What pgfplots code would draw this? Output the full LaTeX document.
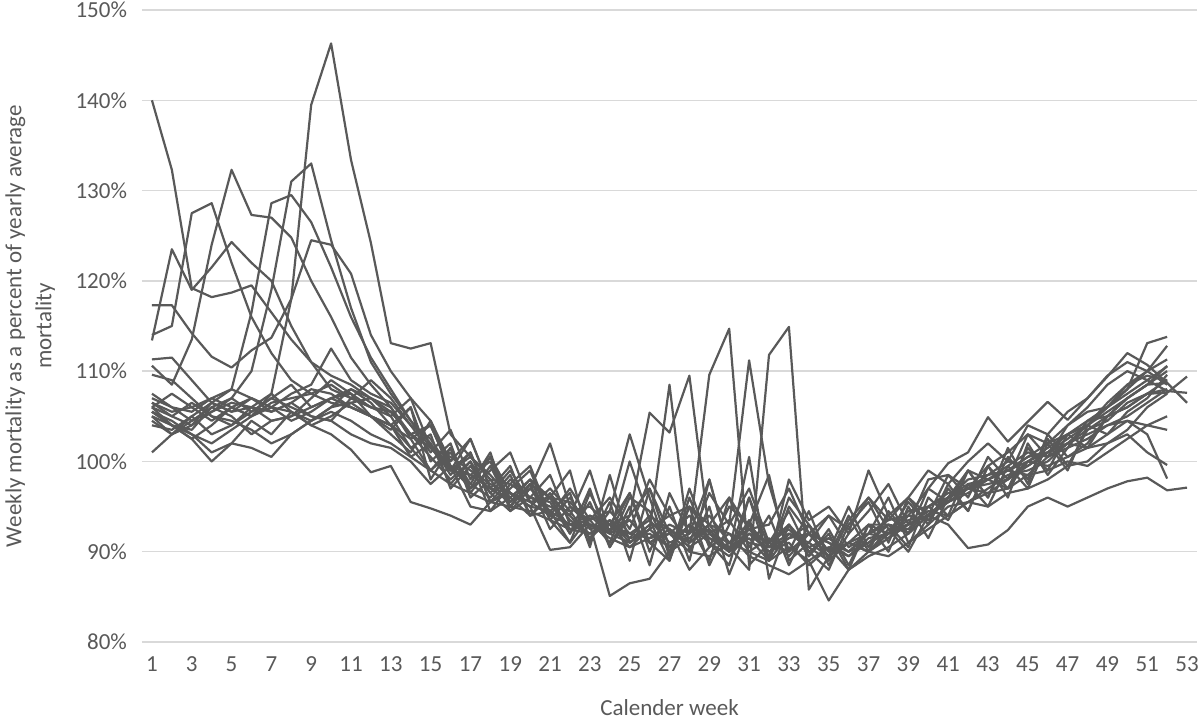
\documentclass[border=0pt]{standalone}
\usepackage{pgfplots}
\pgfplotsset{compat=1.18}
\usepackage{fontspec}
\setmainfont{Carlito}
\definecolor{ln}{HTML}{595959}
\definecolor{gr}{HTML}{D9D9D9}
\definecolor{tx}{HTML}{595959}
\begin{document}
\begin{tikzpicture}
\path[use as bounding box] (-71pt,-40pt) rectangle (529pt,321pt);
\begin{axis}[
  scale only axis, width=527.5pt, height=316pt,
  xmin=0.5, xmax=53.5, ymin=80, ymax=150,
  xtick={1,3,...,53},
  ytick={80,90,...,150},
  yticklabels={80\%,90\%,100\%,110\%,120\%,130\%,140\%,150\%},
  /pgf/number format/assume math mode=true,
  ymajorgrids, grid style={gr, line width=0.75pt},
  axis line style={draw=none},
  tick style={draw=none},
  tick label style={font=\fontsize{11.5}{13}\selectfont, text=tx},
  xticklabel style={yshift=-4pt},
  yticklabel style={xshift=-4pt},
  label style={font=\fontsize{11.5}{15}\selectfont, text=tx},
  xlabel={Calender week},
  xlabel style={at={(axis description cs:0.5,-0.1044)}, anchor=center},
  ylabel={Weekly mortality as a percent of yearly average\\mortality},
  ylabel style={align=center, at={(axis description cs:-0.106,0.5)}, anchor=center},
  no markers,
  every axis plot post/.append style={draw=ln, solid, line width=1.1pt, line join=round},
  clip=false,
]
% S1
\addplot table[x expr=\coordindex+1, y index=0, header=false, row sep=\\]{140\\132.3\\119.2\\118.2\\118.7\\119.5\\116.5\\113.5\\111\\109.5\\108.5\\107\\105.5\\103\\101.5\\99.5\\98.5\\97\\96.5\\95\\94.5\\93\\94\\92\\93.5\\91\\92.5\\91\\93\\90\\91.5\\89\\92\\90.5\\89\\91\\90\\92.5\\93\\94.5\\94\\95.5\\95\\96.5\\97\\98\\99.5\\100\\102\\103.5\\106\\107.5\\};
% S2
\addplot table[x expr=\coordindex+1, y index=0, header=false, row sep=\\]{105.5\\104\\102.5\\104\\106\\105\\107.5\\118\\139.5\\146.3\\133.4\\124.2\\113.1\\112.5\\113.1\\103\\100.5\\98\\97.5\\96\\95\\94.5\\91.5\\93.5\\91\\92.5\\90.5\\93\\91\\89.5\\92\\90\\91\\88.5\\90.5\\89.5\\91.5\\92\\93.5\\94\\96\\97\\98.5\\99\\100.5\\101\\102.5\\104\\106\\108\\110\\111.3\\};
% S3
\addplot table[x expr=\coordindex+1, y index=0, header=false, row sep=\\]{106.5\\105\\104\\105.5\\107\\110\\119\\131\\133\\124.5\\117\\111\\107.5\\104.5\\101.5\\100.5\\99\\97.5\\96.5\\95.5\\96\\94\\99\\92\\96.5\\91\\89\\95\\92\\90\\96\\90.5\\93\\89.5\\92\\88\\93\\93\\90.5\\96\\94\\99\\96\\100.5\\98\\102.5\\99.5\\103.5\\105\\107\\108.5\\110.6\\};
% S4
\addplot table[x expr=\coordindex+1, y index=0, header=false, row sep=\\]{105\\103\\104\\106.5\\108\\116.5\\128.6\\129.5\\126.5\\121.5\\116\\111.5\\108\\104.5\\102\\98.5\\101\\95.5\\97\\99\\93.5\\96\\92.5\\93\\91.5\\94\\92.5\\90.5\\92\\93.5\\90\\91.5\\89.5\\92\\91\\90\\92\\93\\92.5\\95\\96.5\\97\\98\\99.5\\101\\100.5\\102\\104\\106.5\\108.5\\109.5\\109\\};
% S5
\addplot table[x expr=\coordindex+1, y index=0, header=false, row sep=\\]{110.6\\108.5\\113.5\\124\\132.3\\127.3\\127\\124.8\\120\\116\\111.5\\108.5\\106\\103\\104\\99\\98.5\\100\\95\\97.5\\96\\92\\95.5\\90.5\\94\\97\\90.5\\93\\89\\96\\90.5\\94\\88.5\\93\\90\\95\\90.5\\94\\92\\97\\95.5\\99\\96\\101.5\\97.5\\103\\100.5\\102\\105\\106\\107.5\\108\\};
% S6
\addplot table[x expr=\coordindex+1, y index=0, header=false, row sep=\\]{114\\115\\127.5\\128.6\\122\\116\\112\\109\\107.5\\106.5\\106\\105\\104\\106\\98\\101.5\\96.5\\99.5\\95\\97.5\\96\\92.5\\92\\93\\90.5\\92.5\\94\\91\\92.5\\90\\92\\91\\93\\90.5\\91.5\\90\\91\\93\\92\\94\\95.5\\97\\96.5\\98\\100\\101\\102\\101.5\\103\\105.5\\107\\109.6\\};
% S7
\addplot table[x expr=\coordindex+1, y index=0, header=false, row sep=\\]{113.4\\123.5\\119\\121.5\\124.3\\122\\120\\115\\111\\108\\107\\106\\105.5\\103\\104\\99.5\\97.5\\101\\94.5\\96\\98.5\\93\\93.5\\94.5\\92\\91.5\\93\\92\\94\\91\\92.5\\90\\91.5\\93\\90\\91\\92\\91.5\\94\\93.5\\96\\97.5\\98\\99\\100.5\\102\\103\\104.5\\106\\108.5\\110\\112.8\\};
% S8
\addplot table[x expr=\coordindex+1, y index=0, header=false, row sep=\\]{117.3\\117.3\\114.2\\111.6\\110.4\\112.3\\113.7\\118\\124.5\\124\\120.8\\114\\110\\107\\104.5\\100\\102.5\\97\\99.5\\94\\96\\95.5\\93\\92.5\\93.5\\91\\92\\94\\91.5\\90\\92.5\\91\\90\\92\\89.5\\91\\93\\92\\94.5\\95\\96\\98\\98.5\\100\\99.5\\101\\103\\104\\105.5\\107\\108.5\\110\\};
% S9
\addplot table[x expr=\coordindex+1, y index=0, header=false, row sep=\\]{111.3\\111.5\\109\\106.5\\105.5\\106\\107.5\\105.5\\104.5\\106\\108\\107\\105\\101.5\\103\\97\\99.5\\96.5\\99\\95.5\\94\\97\\93.5\\91\\96\\94.5\\90\\95\\88.5\\93\\97\\91\\94.5\\90\\88\\93\\95.5\\91\\96\\93\\97.5\\94.5\\99.5\\96\\102\\98.5\\101.5\\104.5\\105\\106\\107.5\\109\\};
% S10
\addplot table[x expr=\coordindex+1, y index=0, header=false, row sep=\\]{109.6\\109\\107\\105\\104.5\\103.5\\102\\103\\104.5\\106\\106.5\\105\\103.5\\106\\100\\102\\96\\98\\95\\97.5\\92.5\\95\\93\\85.1\\86.5\\87\\90\\91.5\\93\\92\\91\\90.5\\92\\91\\89.5\\91\\90\\91.5\\93\\94\\95.5\\96.5\\98\\99\\98.5\\100.5\\101.5\\102.5\\104\\105\\106.5\\108\\};
% S11
\addplot table[x expr=\coordindex+1, y index=0, header=false, row sep=\\]{101\\103\\105\\106.5\\105.5\\107\\106\\105.5\\104\\105\\106.5\\107\\106\\102.5\\104\\99\\101\\95.5\\98\\96\\95.5\\92\\97\\90.5\\95\\88.5\\96.5\\92\\98\\90\\93.5\\89\\95\\92\\89.5\\94\\90\\94.5\\92\\95\\93.5\\97.5\\95\\99.5\\97\\102\\99\\104\\103\\104.5\\104\\103.5\\};
% S12
\addplot table[x expr=\coordindex+1, y index=0, header=false, row sep=\\]{105.5\\104.5\\103\\102\\103.5\\105\\106\\107.5\\108.5\\112.5\\109\\107.5\\106.5\\104\\101\\103.5\\98\\100.5\\96.5\\95\\97\\94.5\\95\\93\\92\\93.5\\91\\92\\109.6\\114.7\\88.5\\91\\92.5\\90\\91.5\\90\\92\\93.5\\96\\94\\98.5\\96\\100.5\\98\\103\\100.5\\104\\105.5\\106\\107.5\\109\\110.5\\};
% S13
\addplot table[x expr=\coordindex+1, y index=0, header=false, row sep=\\]{106\\105\\106.5\\105\\104\\106\\105.5\\106.5\\108\\107.5\\106\\105\\104\\100.5\\102\\97.5\\100\\94.5\\97.5\\99.5\\94\\93\\92\\93.5\\91.5\\92\\90.5\\93\\91.5\\90.5\\88\\111.8\\114.9\\85.8\\89.5\\91\\90\\92\\93\\94\\95.5\\97\\98\\99\\100\\101.5\\103\\104\\106\\108\\113.1\\113.8\\};
% S14
\addplot table[x expr=\coordindex+1, y index=0, header=false, row sep=\\]{104.5\\103\\104.5\\106\\107\\105.5\\107\\108.5\\106\\107\\107.5\\106\\105\\107\\101.5\\99\\102.5\\97\\95.5\\98\\96\\99\\91\\95.5\\89\\97\\92\\91\\96.5\\93\\111.2\\97.5\\90\\94.5\\89\\93.5\\96\\92.5\\90\\94\\96\\97\\97.5\\98\\99.5\\101\\102\\103.5\\104.5\\106.5\\107.5\\107.6\\109.4\\};
% S15
\addplot table[x expr=\coordindex+1, y index=0, header=false, row sep=\\]{107\\106\\104.5\\105.5\\106.5\\106\\104.5\\105\\106\\107\\108\\106.5\\104\\101.5\\99\\101\\97.5\\96\\98.5\\94\\96.5\\93.5\\92\\93\\94\\105.4\\103.2\\109.5\\92\\91\\93\\90.5\\91.5\\92\\91\\89.5\\91\\92\\95.5\\93\\97\\94.5\\99.5\\97\\101.5\\99\\103\\101.5\\105\\107\\108.5\\108.7\\106.5\\};
% S16
\addplot table[x expr=\coordindex+1, y index=0, header=false, row sep=\\]{106.5\\105.5\\106\\107\\106\\105\\106.5\\107\\107.5\\108.5\\107\\106\\105.5\\103\\100.5\\98\\100\\96.5\\94.5\\97\\94.5\\96.5\\90.5\\98.5\\91\\92.5\\108.5\\90\\95\\87.5\\93\\98.5\\89\\91\\94\\90.5\\92\\96\\91\\93\\95\\95.5\\97\\98.5\\99\\100\\102\\103\\104\\104.5\\103\\98.1\\};
% S17
\addplot table[x expr=\coordindex+1, y index=0, header=false, row sep=\\]{105\\104\\102.5\\100\\102\\101.5\\100.5\\103\\104.5\\105.5\\104.5\\103\\102\\100.5\\99\\97.5\\96.5\\95.5\\95\\94.5\\93.5\\92.5\\93\\91.5\\90.5\\91.5\\92\\90\\89.5\\91\\90\\89\\90.5\\89\\84.6\\88\\89.5\\90.5\\92\\94\\93\\90.4\\90.8\\92.4\\95\\96\\95\\96\\97\\97.8\\98.2\\96.8\\97.1\\};
% S18
\addplot table[x expr=\coordindex+1, y index=0, header=false, row sep=\\]{105.5\\104\\103.5\\106\\105\\103\\104.5\\105\\107\\109\\107.5\\105\\103\\101\\104.5\\99.5\\97\\100.5\\95.5\\97\\102\\95\\93.5\\96\\92.5\\98\\94\\95\\93\\96\\92.5\\93\\97\\92\\94\\92.5\\96\\93.5\\94\\97\\99.8\\101\\104.9\\102.2\\104.4\\106.6\\104.6\\107\\109.4\\112\\110.7\\108.7\\};
% S19
\addplot table[x expr=\coordindex+1, y index=0, header=false, row sep=\\]{106\\104\\103\\101\\102\\104.5\\103\\105.5\\104\\103\\101.3\\98.8\\99.5\\95.5\\94.8\\94\\93\\95.5\\96.5\\95\\90.2\\90.5\\93\\92\\91\\93\\92.5\\88\\90.5\\92\\89.5\\88.5\\87.5\\89\\90.5\\88\\90\\89.5\\91\\92.5\\94\\95.5\\96.5\\97\\98.5\\99\\100\\99.5\\101\\102.5\\104\\105\\};
% S20
\addplot table[x expr=\coordindex+1, y index=0, header=false, row sep=\\]{107.5\\106\\105.5\\107\\108\\107\\105.5\\106.5\\105\\104.5\\107\\109\\107\\104\\102.5\\99\\100.5\\98.5\\96\\94\\94.5\\91\\96.5\\92\\100\\93.5\\89\\96\\90.5\\95\\93\\89.5\\96\\93\\88.5\\92\\94.5\\97.5\\93\\98\\98.5\\97\\99.5\\101\\103\\102\\104\\106\\108.5\\110\\109\\107.8\\107.6\\};
% S21
\addplot table[x expr=\coordindex+1, y index=0, header=false, row sep=\\]{106\\107.5\\106\\104.5\\106\\107\\106\\104.5\\105.5\\107\\106\\105\\104\\102.5\\99\\101.5\\97\\99\\101\\95.5\\96\\94\\91.5\\94.5\\103\\96\\89.5\\97\\91\\88.5\\96\\89\\98\\93.5\\95\\92\\99\\94\\96\\99\\97.5\\100\\102\\100\\104\\103\\105.5\\107\\109.5\\111\\110\\108.5\\};
% S22
\addplot table[x expr=\coordindex+1, y index=0, header=false, row sep=\\]{104\\103.5\\105\\103\\104\\105.5\\107\\106\\105\\104.5\\103\\102\\101.5\\100\\97.5\\99.5\\95\\94.5\\96\\98\\93.5\\91\\94\\93\\96.5\\90\\95\\89\\98\\90\\100.5\\87\\93\\89.5\\92.5\\88.5\\93\\90\\95\\91.5\\96\\99\\98\\97\\100\\99.5\\100.5\\101.5\\102\\103\\101\\99.6\\};
\end{axis}
\end{tikzpicture}
\end{document}
